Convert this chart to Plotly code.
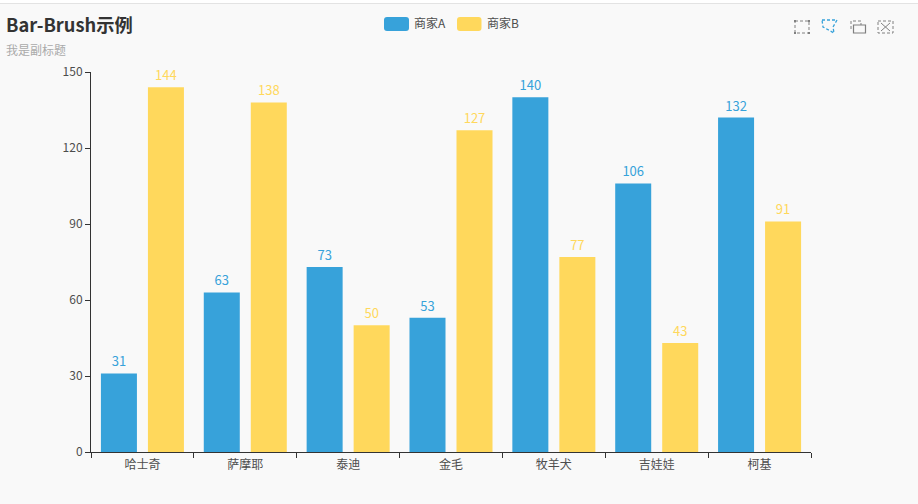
import plotly.graph_objects as go

categories = ["哈士奇", "萨摩耶", "泰迪", "金毛", "牧羊犬", "吉娃娃", "柯基"]
series_a = [31, 63, 73, 53, 140, 106, 132]
series_b = [144, 138, 50, 127, 77, 43, 91]
y_ticks = [0, 30, 60, 90, 120, 150]

COLOR_A = "#37a2da"
COLOR_B = "#ffd85c"
TEXT = "#4d4d4d"
FONT = "'Noto Sans CJK SC', 'Noto Sans', sans-serif"
W, H = 918, 504
L, R, T, B = 91.0, 811.0, 72.0, 452.0


def px(x):
    return (x - L) / (R - L)


def py(y):
    return (B - y) / (B - T)


def path(points, close=False):
    d = "M" + " L".join(f"{px(x):.5f},{py(y):.5f}" for x, y in points)
    return d + (" Z" if close else "")


def rounded(x0, y0, x1, y1, r):
    p = lambda x, y: f"{px(x):.5f},{py(y):.5f}"
    return (
        f"M{p(x0 + r, y0)} L{p(x1 - r, y0)} Q{p(x1, y0)} {p(x1, y0 + r)} "
        f"L{p(x1, y1 - r)} Q{p(x1, y1)} {p(x1 - r, y1)} L{p(x0 + r, y1)} "
        f"Q{p(x0, y1)} {p(x0, y1 - r)} L{p(x0, y0 + r)} Q{p(x0, y0)} {p(x0 + r, y0)} Z"
    )


def shape_path(d, color="#808080", dash="solid", fill=None, width=1.0):
    s = dict(type="path", xref="paper", yref="paper", path=d,
             line=dict(color=color, width=width, dash=dash))
    if fill:
        s["fillcolor"] = fill
    return s


fig = go.Figure()
for name, vals, col in [("商家A", series_a, COLOR_A), ("商家B", series_b, COLOR_B)]:
    fig.add_trace(go.Bar(
        name=name, x=categories, y=vals, marker=dict(color=col, line=dict(width=0)),
        text=vals, textposition="outside", cliponaxis=False, constraintext="none",
        textfont=dict(color=col, size=13, family=FONT),
    ))

DASH = "3px,2px"
shapes = [
    # top page rule
    dict(type="rect", xref="paper", yref="paper", x0=px(0), x1=px(W), y0=py(0), y1=py(3),
         fillcolor="#ffffff", line=dict(width=0)),
    dict(type="line", xref="paper", yref="paper", x0=px(0), x1=px(W), y0=py(3.5), y1=py(3.5),
         line=dict(color="#e3e3e3", width=1)),
    # legend swatches
    shape_path(rounded(384, 17, 409, 31, 3), color=COLOR_A, fill=COLOR_A, width=0),
    shape_path(rounded(457, 17, 481.5, 31, 3), color=COLOR_B, fill=COLOR_B, width=0),
    # toolbox: rect select
    shape_path(path([(795, 21), (809, 21), (809, 33), (795, 33)], True), dash=DASH),
    shape_path(path([(794, 20), (796, 20), (796, 22), (794, 22)], True), fill="#808080", width=0),
    shape_path(path([(808, 20), (810, 20), (810, 22), (808, 22)], True), fill="#808080", width=0),
    shape_path(path([(794, 32), (796, 32), (796, 34), (794, 34)], True), fill="#808080", width=0),
    shape_path(path([(808, 32), (810, 32), (810, 34), (808, 34)], True), fill="#808080", width=0),
    # toolbox: polygon select (active)
    shape_path(path([(822, 20), (837, 20), (833, 27), (834, 33), (823, 27)], True), color=COLOR_A, dash=DASH, width=1.3),
    # toolbox: keep selections
    shape_path(path([(851, 29), (851, 21), (861, 21), (861, 25)]), dash=DASH),
    shape_path(path([(853.5, 25), (865.5, 25), (865.5, 33), (853.5, 33)], True), width=1.2),
    # toolbox: clear
    shape_path(path([(878, 21), (893, 21), (893, 33), (878, 33)], True), dash=DASH),
    shape_path(path([(881, 23), (890, 31)])),
    shape_path(path([(890, 23), (881, 31)])),
]

annotations = [
    dict(text="<b>Bar-Brush示例</b>", x=px(5), y=py(23.5), font=dict(size=18.3, color="#333333", family=FONT)),
    dict(text="我是副标题", x=px(5), y=py(49.5), font=dict(size=12, color="#aaaaaa", family=FONT)),
    dict(text="商家A", x=px(412.5), y=py(22), font=dict(size=12, color=TEXT, family=FONT)),
    dict(text="商家B", x=px(485.5), y=py(22), font=dict(size=12, color=TEXT, family=FONT)),
]
for a in annotations:
    a.update(xref="paper", yref="paper", xanchor="left", yanchor="middle", showarrow=False, borderpad=0)

fig.update_layout(
    width=W, height=H, autosize=False,
    margin=dict(l=L, r=W - R, t=T, b=H - B, pad=0),
    paper_bgcolor="#f9f9f9", plot_bgcolor="#f9f9f9",
    barmode="group", bargap=0.086, bargroupgap=0.234,
    showlegend=False, shapes=shapes, annotations=annotations,
    font=dict(family=FONT, size=12, color=TEXT),
    xaxis=dict(type="category", categoryorder="array", categoryarray=categories,
               tickson="boundaries", ticks="outside", ticklen=5, tickwidth=1, tickcolor="#333333",
               showline=True, linecolor="#333333", linewidth=1, showgrid=False, zeroline=False,
               ticklabelstandoff=2,
               tickfont=dict(size=12, color=TEXT, family=FONT)),
    yaxis=dict(range=[0, 150], tickvals=y_ticks, ticks="outside", ticklen=5, tickwidth=1,
               tickcolor="#333333", showline=True, linecolor="#333333", linewidth=1,
               showgrid=False, zeroline=False,
               tickfont=dict(size=12, color=TEXT, family=FONT)),
)

fig.write_html("out.html", config=dict(displayModeBar=False),
               post_script="document.body.style.margin='0';")
